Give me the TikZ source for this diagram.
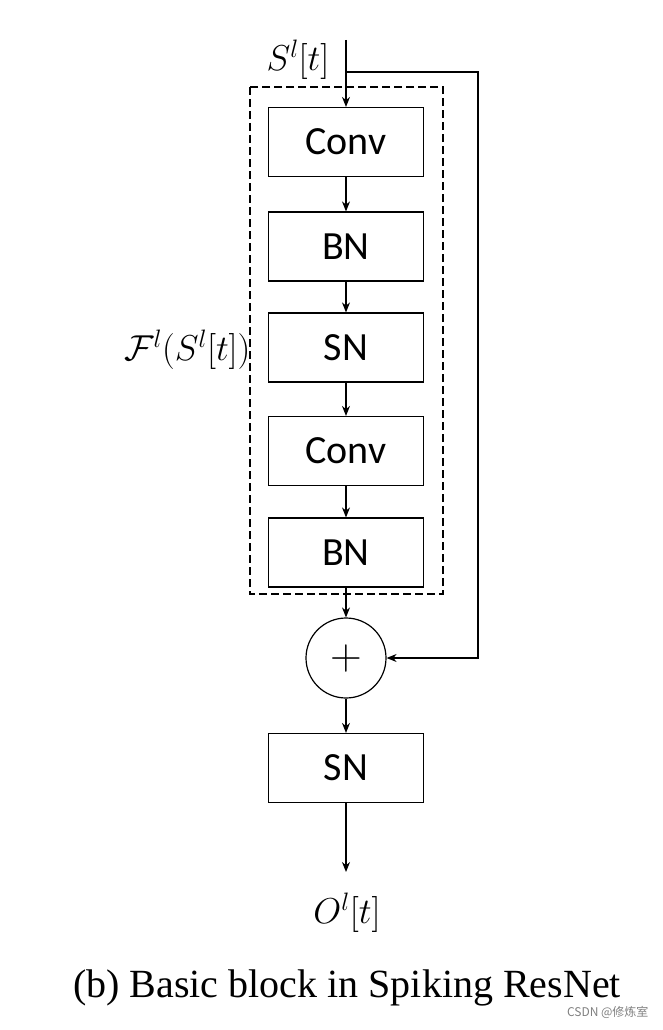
\RequirePackage{fix-cm}
\documentclass[tikz,border=0pt]{standalone}
\usepackage{fontspec}
\setmainfont{Liberation Serif}
\newfontfamily\boxfont{Carlito}
\newfontfamily\cjk{Noto Sans CJK SC}
\usetikzlibrary{arrows.meta}
\begin{document}
\begin{tikzpicture}[x=1pt,y=-1pt,
  blk/.style={draw,line width=1.2pt,minimum width=155pt,minimum height=69pt,font=\boxfont\fontsize{40}{44}\selectfont},
  arr/.style={line width=1.2pt,-{Stealth[length=10pt,width=8pt]}}]
\useasboundingbox (0,0) rectangle (662,1030);
\draw[dash pattern=on 8pt off 4pt,line width=1.2pt] (250,87) rectangle (443,594);
\node[blk] (c1) at (346,142) {Conv};
\node[blk] (b1) at (346,246.5) {BN};
\node[blk] (s1) at (346,347.5) {SN};
\node[blk] (c2) at (346,451) {Conv};
\node[blk] (b2) at (346,552.5) {BN};
\node[draw,circle,line width=1.2pt,minimum size=80pt,inner sep=0pt,font=\fontsize{44}{44}\selectfont] (p) at (346,658) {$+$};
\node[blk] (s2) at (346,768) {SN};
\node[font=\fontsize{36}{40}\selectfont] (in) at (298,60) {$S^l[t]$};
\node[font=\fontsize{36}{40}\selectfont,anchor=east] (f) at (254,350) {$\mathcal{F}^l(S^l[t])$};
\node[font=\fontsize{36}{40}\selectfont] (out) at (347,913) {$O^l[t]$};
\node[font=\fontsize{40}{44}\selectfont] (cap) at (347,988) {(b) Basic block in Spiking ResNet};
\node[font=\cjk\fontsize{12}{14}\selectfont,text=gray,anchor=east] (wm) at (652,1012) {CSDN @修炼室};
\coordinate (top) at (346,40);
\coordinate (sk) at (346,72);
\coordinate (sr) at (478,72);
\coordinate (sb) at (478,658);
\coordinate (oe) at (346,872);
\draw[arr] (top) -- (c1.north);
\draw[arr] (c1) -- (b1);
\draw[arr] (b1) -- (s1);
\draw[arr] (s1) -- (c2);
\draw[arr] (c2) -- (b2);
\draw[arr] (b2.south) -- (p.north);
\draw[arr] (sk) -- (sr) -- (sb) -- (p.east);
\draw[arr] (p.south) -- (s2.north);
\draw[arr] (s2.south) -- (oe);
\end{tikzpicture}
\end{document}
